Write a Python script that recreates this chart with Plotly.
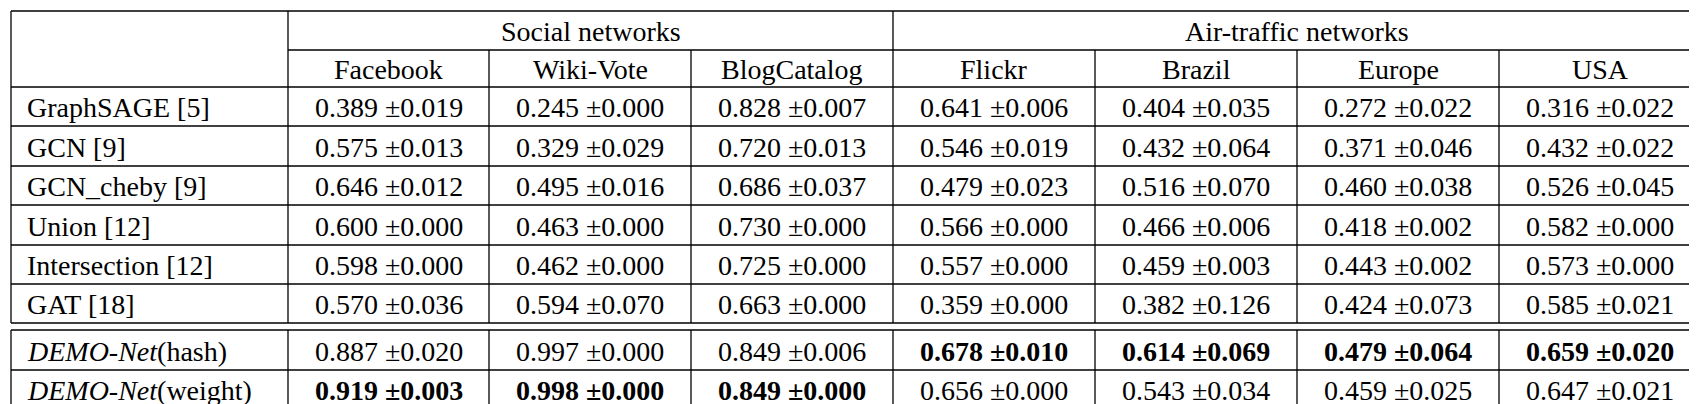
import plotly.graph_objects as go

groups = ["Social networks", "Air-traffic networks"]
datasets = ["Facebook", "Wiki-Vote", "BlogCatalog", "Flickr", "Brazil", "Europe", "USA"]
methods = ["GraphSAGE [5]", "GCN [9]", "GCN_cheby [9]", "Union [12]", "Intersection [12]",
           "GAT [18]", "<i>DEMO-Net</i>(hash)", "<i>DEMO-Net</i>(weight)"]
means = [
    [0.389, 0.245, 0.828, 0.641, 0.404, 0.272, 0.316],
    [0.575, 0.329, 0.720, 0.546, 0.432, 0.371, 0.432],
    [0.646, 0.495, 0.686, 0.479, 0.516, 0.460, 0.526],
    [0.600, 0.463, 0.730, 0.566, 0.466, 0.418, 0.582],
    [0.598, 0.462, 0.725, 0.557, 0.459, 0.443, 0.573],
    [0.570, 0.594, 0.663, 0.359, 0.382, 0.424, 0.585],
    [0.887, 0.997, 0.849, 0.678, 0.614, 0.479, 0.659],
    [0.919, 0.998, 0.849, 0.656, 0.543, 0.459, 0.647],
]
stds = [
    [0.019, 0.000, 0.007, 0.006, 0.035, 0.022, 0.022],
    [0.013, 0.029, 0.013, 0.019, 0.064, 0.046, 0.022],
    [0.012, 0.016, 0.037, 0.023, 0.070, 0.038, 0.045],
    [0.000, 0.000, 0.000, 0.000, 0.006, 0.002, 0.000],
    [0.000, 0.000, 0.000, 0.000, 0.003, 0.002, 0.000],
    [0.036, 0.070, 0.000, 0.000, 0.126, 0.073, 0.021],
    [0.020, 0.000, 0.006, 0.010, 0.069, 0.064, 0.020],
    [0.003, 0.000, 0.000, 0.000, 0.034, 0.025, 0.021],
]
# bold cells (row, col)
best = {(7, 0), (7, 1), (7, 2), (6, 3), (6, 4), (6, 5), (6, 6)}

W, H = 1697, 404
FONT = "Liberation Serif"
FS = 28
xs = [3, 280, 481, 683, 885, 1087, 1289, 1491, 1693]
row_tops = [79, 118, 158, 197, 237, 276, 322, 362]
row_bots = [118, 158, 197, 237, 276, 315, 362, 401]

fig = go.Figure()
shapes = []
ann = []

def line(x0, y0, x1, y1, w=1.3):
    shapes.append(dict(type="line", xref="x", yref="y", x0=x0, y0=y0, x1=x1, y1=y1,
                       line=dict(color="black", width=w)))

def text(x, y, s, anchor="center"):
    ann.append(dict(x=x, y=y, xref="x", yref="y", text=s, showarrow=False, xanchor=anchor,
                    yanchor="middle", font=dict(family=FONT, size=FS, color="black")))

# horizontal lines
line(xs[0], 3, xs[-1], 3)
line(xs[1], 42, xs[-1], 42)
for y in [79, 118, 158, 197, 237, 276, 315, 322, 362, 401]:
    line(xs[0], y, xs[-1], y)
# vertical lines
for x in [xs[0], xs[1], xs[-1]]:
    line(x, 3, x, 315); line(x, 322, x, 401)
line(xs[4], 3, xs[4], 42)
for x in xs[2:-1]:
    line(x, 42, x, 315); line(x, 322, x, 401)

text((xs[1] + xs[4]) / 2, 23, groups[0])
text((xs[4] + xs[-1]) / 2, 23, groups[1])
for j, d in enumerate(datasets):
    text((xs[j + 1] + xs[j + 2]) / 2, 61, d)
for i, m in enumerate(methods):
    yc = (row_tops[i] + row_bots[i]) / 2 + 1
    text(17, yc, m, anchor="left")
    for j in range(len(datasets)):
        s = f"{means[i][j]:.3f} ±{stds[i][j]:.3f}"
        if (i, j) in best:
            s = f"<b>{s}</b>"
        text((xs[j + 1] + xs[j + 2]) / 2, yc, s)

fig.update_layout(width=W, height=H, margin=dict(l=0, r=0, t=0, b=0),
                  plot_bgcolor="white", paper_bgcolor="white",
                  xaxis=dict(range=[0, W], visible=False, fixedrange=True),
                  yaxis=dict(range=[H, 0], visible=False, fixedrange=True),
                  shapes=shapes, annotations=ann, showlegend=False)
fig.write_html("out.html", config={"displayModeBar": False})
